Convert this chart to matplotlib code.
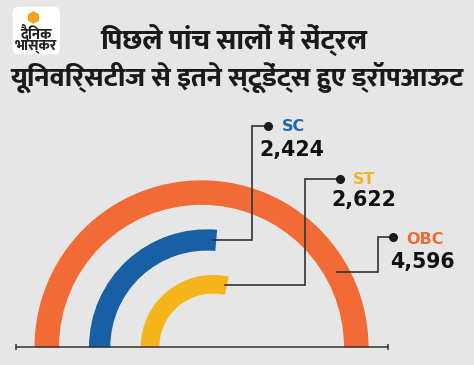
import numpy as np
import matplotlib
matplotlib.use("Agg")
import matplotlib.pyplot as plt
from matplotlib import font_manager
from matplotlib.patches import Wedge, FancyBboxPatch

# data
groups = ["OBC", "SC", "ST"]
dropouts = [4596, 2424, 2622]
value_labels = ["4,596", "2,424", "2,622"]
title_lines = ["पिछले पांच सालों में सेंट्रल",
               "यूनिवर्सिटीज से इतने स्टूडेंट्स हुए ड्रॉपआऊट"]
logo_lines = ["दैनिक", "भास्कर"]

ring_colors = ["#f26a35", "#1760a6", "#f7b51c"]
label_colors = ["#f26a35", "#1c69b3", "#f2b323"]
BG = "#e6e6e6"
H = 365

# pick a Devanagari font that is installed
installed = {f.name for f in font_manager.fontManager.ttflist}
deva = next((n for n in ["Mukta", "Noto Sans Devanagari", "Hind"] if n in installed), None)
title_family = [deva, "DejaVu Sans"] if deva else ["DejaVu Sans"]


def reorder(s):
    # matplotlib does no Indic shaping, so put the i-sign before its consonant by hand
    out = list(s)
    i = 0
    while i < len(out):
        if out[i] == "\u093f" and i > 0:
            j = i - 1
            while j >= 2 and out[j - 1] == "\u094d":
                j -= 2
            out.insert(j, out.pop(i))
        i += 1
    return "".join(out)


fig = plt.figure(figsize=(4.74, 3.65), dpi=100, facecolor=BG)
ax = fig.add_axes([0, 0, 1, 1])
ax.set_xlim(0, 474)
ax.set_ylim(0, H)
ax.set_aspect("equal")
ax.axis("off")


def Y(y_img):
    # picture rows run downwards, axes run upwards
    return H - y_img


# ring layout: centre x, outer radius, thickness
base_y = Y(347.3)
centres = [201.5, 207.0, 213.0]
outer_r = [167.0, 118.0, 72.3]
widths = [24.5, 21.3, 18.6]

full = max(dropouts)
spans = [v / full * 180.0 for v in dropouts]
anchors = []
for i in range(3):
    th1 = 180.0 - spans[i]
    ax.add_patch(Wedge((centres[i], base_y), outer_r[i], th1, 180.0,
                       width=widths[i], color=ring_colors[i], lw=0))
    mid = outer_r[i] - widths[i] / 2
    a = np.radians(29.0 if i == 0 else th1 + 2.0)
    anchors.append((centres[i] + mid * np.cos(a), base_y + mid * np.sin(a)))

# baseline with end caps
ax.plot([15.7, 388], [base_y, base_y], color="#333333", lw=1.1)
ax.plot([15.7, 388], [base_y, base_y], ls="none", marker="|",
        ms=5, mew=1.1, color="#333333")

# connectors and labels
elbow_x = [377.7, 251.7, 305.0]
dot_pos = [(393.3, 236.7), (268.0, 125.5), (340.0, 178.5)]
name_pos = [(406.0, 240.0), (281.5, 126.5), (352.5, 179.5)]
val_pos = [(390.0, 261.7), (259.0, 150.0), (331.5, 200.0)]
for i in range(3):
    ax_, ay_ = anchors[i]
    dx, dy = dot_pos[i]
    ax.plot([ax_, elbow_x[i], elbow_x[i], dx], [ay_, ay_, Y(dy), Y(dy)],
            color="#333333", lw=1.2, solid_joinstyle="miter")
    ax.plot(dx, Y(dy), "o", ms=5.5, color="#1a1a1a")
    ax.text(name_pos[i][0], Y(name_pos[i][1]), groups[i], color=label_colors[i],
            fontsize=11.5, fontweight="bold", va="center", ha="left")
    ax.text(val_pos[i][0], Y(val_pos[i][1]), value_labels[i], color="#111111",
            fontsize=14.8, fontweight="bold", va="center", ha="left")

# logo: white rounded tile, sun and the two-line name as one text
ax.add_patch(FancyBboxPatch((12.7, Y(54.3)), 47.3, 47.6,
                            boxstyle="round,pad=0,rounding_size=6",
                            fc="white", ec="none"))
ax.plot(33.5, Y(16.5), marker="h", ms=8, color="#f7a21b")
logo = ax.text(36, Y(38.5), reorder(logo_lines[0]) + "\n" + logo_lines[1],
               family=title_family, fontsize=9, fontweight=800, color="#222222",
               ha="center", va="center", multialignment="center", linespacing=0.78)

# title, scaled to the width it takes in the picture
t1 = ax.text(233.5, Y(39.5), reorder(title_lines[0]), family=title_family, fontsize=20,
             fontweight=800, color="#1a1a1a", ha="center", va="center")
t2 = ax.text(236.5, Y(77.5), reorder(title_lines[1]), family=title_family, fontsize=20,
             fontweight=800, color="#1a1a1a", ha="center", va="center")
fig.canvas.draw()
for t, w in [(t1, 267.0), (t2, 453.0), (logo, 42.0)]:
    bw = t.get_window_extent().width
    if bw > 0:
        t.set_fontsize(t.get_fontsize() * w / bw)

fig.savefig("out.png", dpi=100, facecolor=BG)
